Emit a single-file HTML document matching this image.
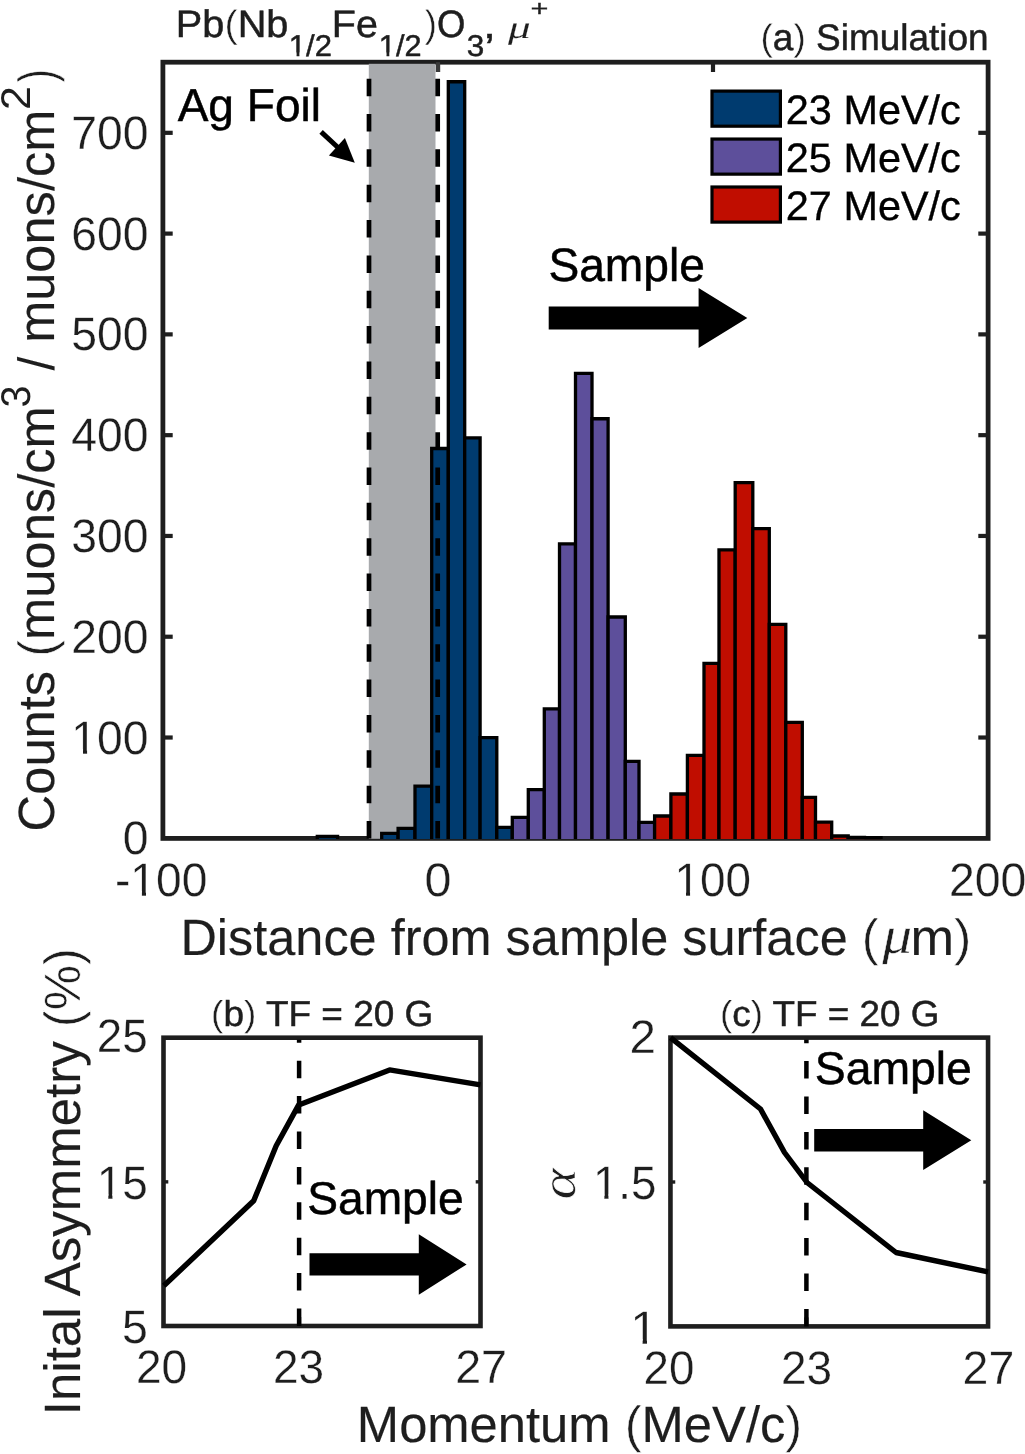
<!DOCTYPE html>
<html lang="en">
<head>
<meta charset="utf-8">
<title>Muon stopping profile simulation</title>
<style>
html,body{margin:0;padding:0;background:#fff;}
svg{display:block;}
text{white-space:pre;text-rendering:geometricPrecision;}
</style>
</head>
<body>
<svg width="1025" height="1454" viewBox="0 0 1025 1454">
<rect x="0" y="0" width="1025" height="1454" fill="#ffffff"/>
<line x1="438.00" y1="838.40" x2="438.00" y2="828.60" stroke="#1e1e1e" stroke-width="4.2"/>
<line x1="438.00" y1="62.20" x2="438.00" y2="72.00" stroke="#1e1e1e" stroke-width="4.2"/>
<line x1="713.00" y1="838.40" x2="713.00" y2="828.60" stroke="#1e1e1e" stroke-width="4.2"/>
<line x1="713.00" y1="62.20" x2="713.00" y2="72.00" stroke="#1e1e1e" stroke-width="4.2"/>
<line x1="162.90" y1="737.52" x2="172.70" y2="737.52" stroke="#1e1e1e" stroke-width="4.2"/>
<line x1="988.10" y1="737.52" x2="978.30" y2="737.52" stroke="#1e1e1e" stroke-width="4.2"/>
<line x1="162.90" y1="636.73" x2="172.70" y2="636.73" stroke="#1e1e1e" stroke-width="4.2"/>
<line x1="988.10" y1="636.73" x2="978.30" y2="636.73" stroke="#1e1e1e" stroke-width="4.2"/>
<line x1="162.90" y1="535.95" x2="172.70" y2="535.95" stroke="#1e1e1e" stroke-width="4.2"/>
<line x1="988.10" y1="535.95" x2="978.30" y2="535.95" stroke="#1e1e1e" stroke-width="4.2"/>
<line x1="162.90" y1="435.17" x2="172.70" y2="435.17" stroke="#1e1e1e" stroke-width="4.2"/>
<line x1="988.10" y1="435.17" x2="978.30" y2="435.17" stroke="#1e1e1e" stroke-width="4.2"/>
<line x1="162.90" y1="334.38" x2="172.70" y2="334.38" stroke="#1e1e1e" stroke-width="4.2"/>
<line x1="988.10" y1="334.38" x2="978.30" y2="334.38" stroke="#1e1e1e" stroke-width="4.2"/>
<line x1="162.90" y1="233.60" x2="172.70" y2="233.60" stroke="#1e1e1e" stroke-width="4.2"/>
<line x1="988.10" y1="233.60" x2="978.30" y2="233.60" stroke="#1e1e1e" stroke-width="4.2"/>
<line x1="162.90" y1="132.82" x2="172.70" y2="132.82" stroke="#1e1e1e" stroke-width="4.2"/>
<line x1="988.10" y1="132.82" x2="978.30" y2="132.82" stroke="#1e1e1e" stroke-width="4.2"/>
<rect x="162.90" y="62.20" width="825.20" height="776.20" fill="none" stroke="#1e1e1e" stroke-width="4.8"/>
<rect x="368.80" y="63.80" width="66.70" height="775.00" fill="#a8aaad" stroke="none" stroke-width="0"/>
<path d="M317.30,839.1 V836.48 H337.60 V839.1" fill="#003b6f" stroke="#000" stroke-width="3.3" stroke-linejoin="miter"/>
<path d="M381.70,839.1 V833.46 H398.10 V839.1" fill="#003b6f" stroke="#000" stroke-width="3.3" stroke-linejoin="miter"/>
<path d="M398.10,839.1 V828.41 H415.00 V839.1" fill="#003b6f" stroke="#000" stroke-width="3.3" stroke-linejoin="miter"/>
<path d="M415.00,839.1 V786.03 H431.70 V839.1" fill="#003b6f" stroke="#000" stroke-width="3.3" stroke-linejoin="miter"/>
<path d="M431.70,839.1 V448.52 H448.30 V839.1" fill="#003b6f" stroke="#000" stroke-width="3.3" stroke-linejoin="miter"/>
<path d="M448.30,839.1 V81.75 H464.70 V839.1" fill="#003b6f" stroke="#000" stroke-width="3.3" stroke-linejoin="miter"/>
<path d="M464.70,839.1 V437.93 H480.10 V839.1" fill="#003b6f" stroke="#000" stroke-width="3.3" stroke-linejoin="miter"/>
<path d="M480.10,839.1 V737.60 H496.80 V839.1" fill="#003b6f" stroke="#000" stroke-width="3.3" stroke-linejoin="miter"/>
<path d="M496.80,839.1 V827.40 H512.30 V839.1" fill="#003b6f" stroke="#000" stroke-width="3.3" stroke-linejoin="miter"/>
<path d="M512.30,839.1 V817.31 H528.30 V839.1" fill="#5d4f9b" stroke="#000" stroke-width="3.3" stroke-linejoin="miter"/>
<path d="M528.30,839.1 V789.56 H544.30 V839.1" fill="#5d4f9b" stroke="#000" stroke-width="3.3" stroke-linejoin="miter"/>
<path d="M544.30,839.1 V708.84 H559.50 V839.1" fill="#5d4f9b" stroke="#000" stroke-width="3.3" stroke-linejoin="miter"/>
<path d="M559.50,839.1 V543.87 H575.50 V839.1" fill="#5d4f9b" stroke="#000" stroke-width="3.3" stroke-linejoin="miter"/>
<path d="M575.50,839.1 V373.35 H592.00 V839.1" fill="#5d4f9b" stroke="#000" stroke-width="3.3" stroke-linejoin="miter"/>
<path d="M592.00,839.1 V418.76 H608.10 V839.1" fill="#5d4f9b" stroke="#000" stroke-width="3.3" stroke-linejoin="miter"/>
<path d="M608.10,839.1 V617.02 H625.30 V839.1" fill="#5d4f9b" stroke="#000" stroke-width="3.3" stroke-linejoin="miter"/>
<path d="M625.30,839.1 V761.31 H639.00 V839.1" fill="#5d4f9b" stroke="#000" stroke-width="3.3" stroke-linejoin="miter"/>
<path d="M639.00,839.1 V822.36 H654.60 V839.1" fill="#5d4f9b" stroke="#000" stroke-width="3.3" stroke-linejoin="miter"/>
<path d="M654.60,839.1 V816.00 H670.90 V839.1" fill="#c00d00" stroke="#000" stroke-width="3.3" stroke-linejoin="miter"/>
<path d="M670.90,839.1 V794.00 H687.40 V839.1" fill="#c00d00" stroke="#000" stroke-width="3.3" stroke-linejoin="miter"/>
<path d="M687.40,839.1 V755.46 H704.00 V839.1" fill="#c00d00" stroke="#000" stroke-width="3.3" stroke-linejoin="miter"/>
<path d="M704.00,839.1 V663.34 H719.00 V839.1" fill="#c00d00" stroke="#000" stroke-width="3.3" stroke-linejoin="miter"/>
<path d="M719.00,839.1 V549.93 H735.20 V839.1" fill="#c00d00" stroke="#000" stroke-width="3.3" stroke-linejoin="miter"/>
<path d="M735.20,839.1 V482.63 H752.80 V839.1" fill="#c00d00" stroke="#000" stroke-width="3.3" stroke-linejoin="miter"/>
<path d="M752.80,839.1 V528.54 H769.30 V839.1" fill="#c00d00" stroke="#000" stroke-width="3.3" stroke-linejoin="miter"/>
<path d="M769.30,839.1 V624.29 H785.80 V839.1" fill="#c00d00" stroke="#000" stroke-width="3.3" stroke-linejoin="miter"/>
<path d="M785.80,839.1 V722.47 H802.30 V839.1" fill="#c00d00" stroke="#000" stroke-width="3.3" stroke-linejoin="miter"/>
<path d="M802.30,839.1 V797.33 H815.50 V839.1" fill="#c00d00" stroke="#000" stroke-width="3.3" stroke-linejoin="miter"/>
<path d="M815.50,839.1 V822.05 H831.70 V839.1" fill="#c00d00" stroke="#000" stroke-width="3.3" stroke-linejoin="miter"/>
<path d="M831.70,839.1 V835.98 H848.20 V839.1" fill="#c00d00" stroke="#000" stroke-width="3.3" stroke-linejoin="miter"/>
<path d="M848.20,839.1 V837.29 H864.50 V839.1" fill="#c00d00" stroke="#000" stroke-width="3.3" stroke-linejoin="miter"/>
<path d="M864.50,839.1 V837.69 H881.00 V839.1" fill="#c00d00" stroke="#000" stroke-width="3.3" stroke-linejoin="miter"/>
<line x1="369.00" y1="838.50" x2="369.00" y2="64.40" stroke="#000" stroke-width="4.7" stroke-dasharray="17.5 17.85"/>
<line x1="437.70" y1="838.50" x2="437.70" y2="64.40" stroke="#000" stroke-width="4.7" stroke-dasharray="17.5 17.85"/>
<line x1="438.00" y1="62.20" x2="438.00" y2="72.00" stroke="#3a3a3a" stroke-width="4.2"/>
<text transform="translate(122.81,854.40) scale(0.9850,1)" font-family='"Liberation Sans", Arial, Helvetica, sans-serif' font-size="47" fill="#1e1e1e" stroke="#fff" stroke-width="0.3">0</text>
<clipPath id="k1"><path clip-rule="evenodd" d="M-2000,-2000H6000V2000H-2000ZM1.88,-4.51H11.82V1.50H1.88ZM15.97,-4.51H25.38V1.50H15.97Z"/></clipPath>
<text transform="translate(71.35,753.62) scale(0.9850,1)" font-family='"Liberation Sans", Arial, Helvetica, sans-serif' font-size="47" fill="#1e1e1e" stroke="#fff" stroke-width="0.3" clip-path="url(#k1)">100</text>
<text transform="translate(71.35,652.83) scale(0.9850,1)" font-family='"Liberation Sans", Arial, Helvetica, sans-serif' font-size="47" fill="#1e1e1e" stroke="#fff" stroke-width="0.3">200</text>
<text transform="translate(71.35,552.05) scale(0.9850,1)" font-family='"Liberation Sans", Arial, Helvetica, sans-serif' font-size="47" fill="#1e1e1e" stroke="#fff" stroke-width="0.3">300</text>
<text transform="translate(71.35,451.27) scale(0.9850,1)" font-family='"Liberation Sans", Arial, Helvetica, sans-serif' font-size="47" fill="#1e1e1e" stroke="#fff" stroke-width="0.3">400</text>
<text transform="translate(71.35,350.48) scale(0.9850,1)" font-family='"Liberation Sans", Arial, Helvetica, sans-serif' font-size="47" fill="#1e1e1e" stroke="#fff" stroke-width="0.3">500</text>
<text transform="translate(71.35,249.70) scale(0.9850,1)" font-family='"Liberation Sans", Arial, Helvetica, sans-serif' font-size="47" fill="#1e1e1e" stroke="#fff" stroke-width="0.3">600</text>
<text transform="translate(71.35,148.92) scale(0.9850,1)" font-family='"Liberation Sans", Arial, Helvetica, sans-serif' font-size="47" fill="#1e1e1e" stroke="#fff" stroke-width="0.3">700</text>
<clipPath id="k2"><path clip-rule="evenodd" d="M-2000,-2000H6000V2000H-2000ZM17.53,-4.51H27.47V1.50H17.53ZM31.62,-4.51H41.03V1.50H31.62Z"/></clipPath>
<text transform="translate(114.94,895.60) scale(0.9817,1)" font-family='"Liberation Sans", Arial, Helvetica, sans-serif' font-size="47" fill="#1e1e1e" stroke="#fff" stroke-width="0.3" clip-path="url(#k2)">-100</text>
<text transform="translate(424.40,895.60) scale(1.0311,1)" font-family='"Liberation Sans", Arial, Helvetica, sans-serif' font-size="47" fill="#1e1e1e" stroke="#fff" stroke-width="0.3">0</text>
<clipPath id="k3"><path clip-rule="evenodd" d="M-2000,-2000H6000V2000H-2000ZM1.88,-4.51H11.82V1.50H1.88ZM15.97,-4.51H25.38V1.50H15.97Z"/></clipPath>
<text transform="translate(674.49,895.60) scale(0.9753,1)" font-family='"Liberation Sans", Arial, Helvetica, sans-serif' font-size="47" fill="#1e1e1e" stroke="#fff" stroke-width="0.3" clip-path="url(#k3)">100</text>
<text transform="translate(948.98,895.60) scale(0.9872,1)" font-family='"Liberation Sans", Arial, Helvetica, sans-serif' font-size="47" fill="#1e1e1e" stroke="#fff" stroke-width="0.3">200</text>
<text transform="translate(180.40,954.70) scale(0.9892,1)" font-family='"Liberation Sans", Arial, Helvetica, sans-serif' font-size="51" fill="#1e1e1e" stroke="#1e1e1e" stroke-width="0.15">Distance from sample surface <tspan stroke="#fff" stroke-width="0.56">(</tspan></text>
<text transform="translate(882.30,953.16) scale(1.0835,0.9568)" font-family='"Liberation Serif", "Times New Roman", serif' font-size="55" fill="#1e1e1e" stroke="#fff" stroke-width="0.45" font-style="italic">μ</text>
<text transform="translate(910.51,954.70) scale(1.0256,1)" font-family='"Liberation Sans", Arial, Helvetica, sans-serif' font-size="51" fill="#1e1e1e" stroke="#1e1e1e" stroke-width="0.15">m<tspan stroke="#fff" stroke-width="0.56">)</tspan></text>
<text transform="rotate(-90) translate(-831.38,54.10) scale(0.9934,1)" font-family='"Liberation Sans", Arial, Helvetica, sans-serif' font-size="51" fill="#1e1e1e" stroke="#1e1e1e" stroke-width="0.15">Counts <tspan stroke="#fff" stroke-width="0.56">(</tspan>muons/cm</text>
<text transform="rotate(-90) translate(-407.43,29.90) scale(0.9519,1)" font-family='"Liberation Sans", Arial, Helvetica, sans-serif' font-size="41.5" fill="#1e1e1e" stroke="#1e1e1e" stroke-width="0">3</text>
<text transform="rotate(-90) translate(-370.40,54.10) scale(0.9714,1)" font-family='"Liberation Sans", Arial, Helvetica, sans-serif' font-size="51" fill="#1e1e1e" stroke="#1e1e1e" stroke-width="0.15">/</text>
<text transform="rotate(-90) translate(-342.87,54.10) scale(0.9915,1)" font-family='"Liberation Sans", Arial, Helvetica, sans-serif' font-size="51" fill="#1e1e1e" stroke="#1e1e1e" stroke-width="0.15">muons/cm</text>
<text transform="rotate(-90) translate(-109.96,29.80) scale(1.0316,1)" font-family='"Liberation Sans", Arial, Helvetica, sans-serif' font-size="41.5" fill="#1e1e1e" stroke="#1e1e1e" stroke-width="0">2</text>
<text transform="rotate(-90) translate(-82.50,54.10) scale(0.7925,1)" font-family='"Liberation Sans", Arial, Helvetica, sans-serif' font-size="51" fill="#1e1e1e" stroke="#1e1e1e" stroke-width="0.15"><tspan stroke="#fff" stroke-width="0.56">)</tspan></text>
<text transform="translate(175.83,36.90) scale(1.0371,1)" font-family='"Liberation Sans", Arial, Helvetica, sans-serif' font-size="38.3" fill="#1e1e1e" stroke="#1e1e1e" stroke-width="0.5">Pb<tspan stroke="#fff" stroke-width="0.42">(</tspan>Nb</text>
<clipPath id="k4"><path clip-rule="evenodd" d="M-2000,-2000H6000V2000H-2000ZM1.20,-3.24H7.54V1.50H1.20ZM10.20,-3.24H16.20V1.50H10.20Z"/></clipPath>
<text transform="translate(288.82,55.80) scale(1.0331,1)" font-family='"Liberation Sans", Arial, Helvetica, sans-serif' font-size="30" fill="#1e1e1e" stroke="#1e1e1e" stroke-width="0.5" clip-path="url(#k4)">1/2</text>
<text transform="translate(331.85,36.90) scale(1.0314,1)" font-family='"Liberation Sans", Arial, Helvetica, sans-serif' font-size="38.3" fill="#1e1e1e" stroke="#1e1e1e" stroke-width="0.5">Fe</text>
<clipPath id="k5"><path clip-rule="evenodd" d="M-2000,-2000H6000V2000H-2000ZM1.20,-3.24H7.54V1.50H1.20ZM10.20,-3.24H16.20V1.50H10.20Z"/></clipPath>
<text transform="translate(378.85,55.80) scale(1.0224,1)" font-family='"Liberation Sans", Arial, Helvetica, sans-serif' font-size="30" fill="#1e1e1e" stroke="#1e1e1e" stroke-width="0.5" clip-path="url(#k5)">1/2</text>
<text transform="translate(424.76,36.90) scale(0.9531,1)" font-family='"Liberation Sans", Arial, Helvetica, sans-serif' font-size="38.3" fill="#1e1e1e" stroke="#1e1e1e" stroke-width="0.5"><tspan stroke="#fff" stroke-width="0.42">)</tspan>O</text>
<text transform="translate(466.69,55.80) scale(1.0500,1)" font-family='"Liberation Sans", Arial, Helvetica, sans-serif' font-size="30" fill="#1e1e1e" stroke="#1e1e1e" stroke-width="0.5">3</text>
<text transform="translate(483.19,38.40) scale(1.1733,1)" font-family='"Liberation Sans", Arial, Helvetica, sans-serif' font-size="38.3" fill="#1e1e1e" stroke="#1e1e1e" stroke-width="0.5">,</text>
<text transform="translate(508.10,38.36) scale(1.1307,0.7925)" font-family='"Liberation Serif", "Times New Roman", serif' font-size="40" fill="#1e1e1e" stroke="#fff" stroke-width="0.15" font-style="italic">μ</text>
<text transform="translate(530.60,16.45) scale(1.3953,1.0233)" font-family='"Liberation Sans", Arial, Helvetica, sans-serif' font-size="22" fill="#1e1e1e" stroke="#1e1e1e" stroke-width="0.3">+</text>
<text transform="translate(760.55,49.90) scale(0.9991,1)" font-family='"Liberation Sans", Arial, Helvetica, sans-serif' font-size="37" fill="#1e1e1e" stroke="#1e1e1e" stroke-width="0.5"><tspan stroke="#fff" stroke-width="0.41">(</tspan>a<tspan stroke="#fff" stroke-width="0.41">)</tspan> Simulation</text>
<text transform="translate(177.65,121.10) scale(1.0011,1)" font-family='"Liberation Sans", Arial, Helvetica, sans-serif' font-size="46" fill="#000" stroke="#000" stroke-width="0.5">Ag Foil</text>
<text transform="translate(548.38,281.00) scale(0.9867,1)" font-family='"Liberation Sans", Arial, Helvetica, sans-serif' font-size="46.8" fill="#000" stroke="#000" stroke-width="0.5">Sample</text>
<path d="M548.7,306.6 H698.6 V288.0 L747.3,318.0 L698.6,348.0 V329.4 H548.7 Z" fill="#000"/>
<line x1="321.10" y1="131.80" x2="338.50" y2="148.00" stroke="#000" stroke-width="5.0"/>
<path d="M354.8,162.7 L328.9,155.6 L344.9,138.0 Z" fill="#000"/>
<rect x="712.00" y="91.10" width="68.40" height="35.10" fill="#003b6f" stroke="#000" stroke-width="3.2"/>
<text transform="translate(785.79,124.10) scale(1.0061,1)" font-family='"Liberation Sans", Arial, Helvetica, sans-serif' font-size="41.2" fill="#000" stroke="#000" stroke-width="0.35">23 MeV/c</text>
<rect x="712.00" y="139.05" width="68.40" height="35.10" fill="#5d4f9b" stroke="#000" stroke-width="3.2"/>
<text transform="translate(785.79,172.20) scale(1.0061,1)" font-family='"Liberation Sans", Arial, Helvetica, sans-serif' font-size="41.2" fill="#000" stroke="#000" stroke-width="0.35">25 MeV/c</text>
<rect x="712.00" y="187.00" width="68.40" height="35.10" fill="#c00d00" stroke="#000" stroke-width="3.2"/>
<text transform="translate(785.79,220.30) scale(1.0061,1)" font-family='"Liberation Sans", Arial, Helvetica, sans-serif' font-size="41.2" fill="#000" stroke="#000" stroke-width="0.35">27 MeV/c</text>
<line x1="163.50" y1="1181.85" x2="168.30" y2="1181.85" stroke="#1e1e1e" stroke-width="3.4"/>
<line x1="480.50" y1="1181.85" x2="475.70" y2="1181.85" stroke="#1e1e1e" stroke-width="3.4"/>
<line x1="299.10" y1="1326.00" x2="299.10" y2="1317.00" stroke="#1e1e1e" stroke-width="4.2"/>
<rect x="163.50" y="1037.70" width="317.00" height="288.30" fill="none" stroke="#1e1e1e" stroke-width="4.6"/>
<clipPath id="cb"><rect x="161.20" y="1035.40" width="321.60" height="292.90"/></clipPath>
<polyline clip-path="url(#cb)" points="163.8,1285.8 253.7,1200.8 276.2,1145.8 298.7,1104.9 389.6,1069.9 480.5,1084.9" fill="none" stroke="#000" stroke-width="5.4" stroke-linejoin="round"/>
<line x1="299.10" y1="1326.00" x2="299.10" y2="1039.70" stroke="#000" stroke-width="4.5" stroke-dasharray="17.5 17.9"/>
<line x1="670.45" y1="1182.00" x2="675.25" y2="1182.00" stroke="#1e1e1e" stroke-width="3.4"/>
<line x1="988.05" y1="1182.00" x2="983.25" y2="1182.00" stroke="#1e1e1e" stroke-width="3.4"/>
<line x1="806.40" y1="1326.40" x2="806.40" y2="1317.40" stroke="#1e1e1e" stroke-width="4.2"/>
<rect x="670.45" y="1037.60" width="317.60" height="288.80" fill="none" stroke="#1e1e1e" stroke-width="4.6"/>
<clipPath id="cc"><rect x="668.15" y="1035.30" width="322.20" height="293.40"/></clipPath>
<polyline clip-path="url(#cc)" points="670.5,1037.6 760.5,1109.0 784.5,1152.5 807.0,1182.5 896.0,1252.5 988.0,1271.9" fill="none" stroke="#000" stroke-width="5.4" stroke-linejoin="round"/>
<line x1="806.40" y1="1326.40" x2="806.40" y2="1039.60" stroke="#000" stroke-width="4.5" stroke-dasharray="17.5 17.9"/>
<text transform="translate(96.81,1052.20) scale(0.9750,1)" font-family='"Liberation Sans", Arial, Helvetica, sans-serif' font-size="47" fill="#1e1e1e" stroke="#fff" stroke-width="0.3">25</text>
<clipPath id="k6"><path clip-rule="evenodd" d="M-2000,-2000H6000V2000H-2000ZM1.88,-4.51H11.82V1.50H1.88ZM15.97,-4.51H25.38V1.50H15.97Z"/></clipPath>
<text transform="translate(96.78,1198.50) scale(0.9775,1)" font-family='"Liberation Sans", Arial, Helvetica, sans-serif' font-size="47" fill="#1e1e1e" stroke="#fff" stroke-width="0.3" clip-path="url(#k6)">15</text>
<text transform="translate(121.92,1343.00) scale(0.9888,1)" font-family='"Liberation Sans", Arial, Helvetica, sans-serif' font-size="47" fill="#1e1e1e" stroke="#fff" stroke-width="0.3">5</text>
<text transform="translate(135.89,1383.40) scale(0.9803,1)" font-family='"Liberation Sans", Arial, Helvetica, sans-serif' font-size="47" fill="#1e1e1e" stroke="#fff" stroke-width="0.3">20</text>
<text transform="translate(273.00,1383.40) scale(0.9792,1)" font-family='"Liberation Sans", Arial, Helvetica, sans-serif' font-size="47" fill="#1e1e1e" stroke="#fff" stroke-width="0.3">23</text>
<text transform="translate(455.17,1383.40) scale(0.9927,1)" font-family='"Liberation Sans", Arial, Helvetica, sans-serif' font-size="47" fill="#1e1e1e" stroke="#fff" stroke-width="0.3">27</text>
<text transform="translate(629.53,1052.70) scale(1.0093,1)" font-family='"Liberation Sans", Arial, Helvetica, sans-serif' font-size="47" fill="#1e1e1e" stroke="#fff" stroke-width="0.3">2</text>
<clipPath id="k7"><path clip-rule="evenodd" d="M-2000,-2000H6000V2000H-2000ZM1.88,-4.51H11.82V1.50H1.88ZM15.97,-4.51H25.38V1.50H15.97Z"/></clipPath>
<text transform="translate(592.90,1198.70) scale(0.9723,1)" font-family='"Liberation Sans", Arial, Helvetica, sans-serif' font-size="47" fill="#1e1e1e" stroke="#fff" stroke-width="0.3" clip-path="url(#k7)">1.5</text>
<clipPath id="k8"><path clip-rule="evenodd" d="M-2000,-2000H6000V2000H-2000ZM1.88,-4.51H11.82V1.50H1.88ZM15.97,-4.51H25.38V1.50H15.97Z"/></clipPath>
<text transform="translate(630.26,1343.60) scale(1.0479,1)" font-family='"Liberation Sans", Arial, Helvetica, sans-serif' font-size="47" fill="#1e1e1e" stroke="#fff" stroke-width="0.3" clip-path="url(#k8)">1</text>
<text transform="translate(643.51,1383.60) scale(0.9720,1)" font-family='"Liberation Sans", Arial, Helvetica, sans-serif' font-size="47" fill="#1e1e1e" stroke="#fff" stroke-width="0.3">20</text>
<text transform="translate(780.90,1383.60) scale(0.9792,1)" font-family='"Liberation Sans", Arial, Helvetica, sans-serif' font-size="47" fill="#1e1e1e" stroke="#fff" stroke-width="0.3">23</text>
<text transform="translate(962.57,1383.60) scale(0.9906,1)" font-family='"Liberation Sans", Arial, Helvetica, sans-serif' font-size="47" fill="#1e1e1e" stroke="#fff" stroke-width="0.3">27</text>
<text transform="translate(211.09,1025.60) scale(1.0265,1)" font-family='"Liberation Sans", Arial, Helvetica, sans-serif' font-size="36" fill="#1e1e1e" stroke="#1e1e1e" stroke-width="0.5"><tspan stroke="#fff" stroke-width="0.40">(</tspan>b<tspan stroke="#fff" stroke-width="0.40">)</tspan> TF = 20 G</text>
<text transform="translate(720.10,1025.60) scale(1.0224,1)" font-family='"Liberation Sans", Arial, Helvetica, sans-serif' font-size="36" fill="#1e1e1e" stroke="#1e1e1e" stroke-width="0.5"><tspan stroke="#fff" stroke-width="0.40">(</tspan>c<tspan stroke="#fff" stroke-width="0.40">)</tspan> TF = 20 G</text>
<text transform="translate(356.87,1442.40) scale(0.9947,1)" font-family='"Liberation Sans", Arial, Helvetica, sans-serif' font-size="51" fill="#1e1e1e" stroke="#1e1e1e" stroke-width="0.15">Momentum <tspan stroke="#fff" stroke-width="0.56">(</tspan>MeV/c<tspan stroke="#fff" stroke-width="0.56">)</tspan></text>
<text transform="rotate(-90) translate(-1415.15,79.90) scale(0.9992,1)" font-family='"Liberation Sans", Arial, Helvetica, sans-serif' font-size="51" fill="#1e1e1e" stroke="#1e1e1e" stroke-width="0.15">Inital Asymmetry <tspan stroke="#fff" stroke-width="0.56">(%)</tspan></text>
<text transform="rotate(-90) translate(-1199.41,574.80) scale(1.2080,1)" font-family='"Liberation Serif", "Times New Roman", serif' font-size="49" fill="#1e1e1e" stroke="#fff" stroke-width="0.6" font-style="italic">α</text>
<text transform="translate(307.24,1213.70) scale(1.0030,1)" font-family='"Liberation Sans", Arial, Helvetica, sans-serif' font-size="46" fill="#000" stroke="#000" stroke-width="0.5">Sample</text>
<path d="M309.5,1253.3 H418.8 V1234.2 L466.6,1264.4 L418.8,1294.7 V1275.5 H309.5 Z" fill="#000"/>
<text transform="translate(814.73,1084.30) scale(1.0076,1)" font-family='"Liberation Sans", Arial, Helvetica, sans-serif' font-size="46" fill="#000" stroke="#000" stroke-width="0.5">Sample</text>
<path d="M814.2,1129.0 H923.2 V1110.3 L971.3,1140.2 L923.2,1170.1 V1151.4 H814.2 Z" fill="#000"/>
</svg>
</body>
</html>
